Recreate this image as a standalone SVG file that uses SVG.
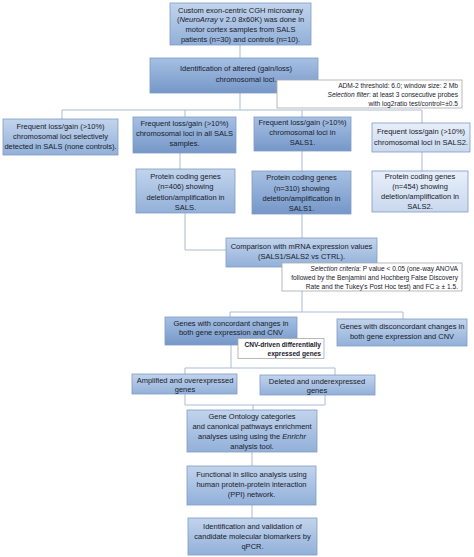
<svg xmlns="http://www.w3.org/2000/svg" width="474" height="557" viewBox="0 0 474 557">
<defs>
<linearGradient id="gMid" x1="0" y1="0" x2="0" y2="1"><stop offset="0" stop-color="#c2d4ec"/><stop offset="1" stop-color="#92b0d9"/></linearGradient>
<linearGradient id="gDark" x1="0" y1="0" x2="0" y2="1"><stop offset="0" stop-color="#a6c0e3"/><stop offset="1" stop-color="#7597c8"/></linearGradient>
<linearGradient id="gLight" x1="0" y1="0" x2="0" y2="1"><stop offset="0" stop-color="#e8eff9"/><stop offset="1" stop-color="#c9d8ee"/></linearGradient>
<style>
.box{stroke:#7f9cc6;stroke-width:0.8}
.mid{fill:url(#gMid)}.dark{fill:url(#gDark)}.light{fill:url(#gLight)}
.note{fill:#ffffff;stroke:#a8a8a8;stroke-width:0.8}
text{font-family:"Liberation Sans",Arial,sans-serif;font-size:7.5px;fill:#18202c}
.c{text-anchor:middle}
.r{text-anchor:end;font-size:6.6px}
.b{font-weight:bold}
.conn line,.conn path{stroke:#a9bcd4;stroke-width:1;fill:none}
</style>
</defs>
<g id="connectors" class="conn">
<line x1="240" y1="45" x2="240" y2="58"/>
<line x1="240" y1="93" x2="240" y2="110"/>
<path d="M62 119 V110 H422 V123"/>
<line x1="185" y1="110" x2="185" y2="117"/>
<line x1="302" y1="110" x2="302" y2="117"/>
<line x1="180" y1="153" x2="180" y2="169"/>
<line x1="302" y1="151" x2="302" y2="171"/>
<line x1="422" y1="152" x2="422" y2="171"/>
<path d="M185 213 V250 H226"/>
<line x1="302" y1="214" x2="302" y2="238"/>
<line x1="302" y1="267" x2="302" y2="312"/>
<path d="M230 317 V312 H403 V319"/>
<line x1="231" y1="345" x2="231" y2="368"/>
<path d="M185 374 V368 H335 V375"/>
<path d="M185 394 V405 H325 V395"/>
<line x1="253" y1="405" x2="253" y2="410"/>
<line x1="252" y1="452" x2="252" y2="466"/>
<line x1="252" y1="505" x2="252" y2="518"/>
</g>
<g id="n1"><rect class="box mid" x="170" y="3" width="141" height="42"/>
<text class="c" x="240.5" y="12.5">Custom exon-centric CGH microarray</text>
<text class="c" x="240.5" y="22.2">(<tspan font-style="italic">NeuroArray</tspan>  v 2.0 8x60K) was done in</text>
<text class="c" x="240.5" y="31.9">motor cortex samples from SALS</text>
<text class="c" x="240.5" y="41.6">patients (n=30) and controls (n=10).</text></g>
<g id="n2"><rect class="box dark" x="150" y="58" width="168" height="35"/>
<text class="c" x="236" y="71">Identification of altered (gain/loss)</text>
<text class="c" x="246" y="82">chromosomal loci.</text></g>
<g id="note1"><rect class="note" x="277" y="80" width="185" height="28"/>
<text class="r" x="458" y="88">ADM-2 threshold: 6.0; window size: 2 Mb</text>
<text class="r" x="458" y="97"><tspan font-style="italic">Selection filter</tspan>: at least 3 consecutive probes</text>
<text class="r" x="458" y="106">with log2ratio test/control=±0.5</text></g>
<g id="nA"><rect class="box mid" x="3" y="119" width="115" height="36"/>
<text class="c" x="60.5" y="129">Frequent  loss/gain (&gt;10%)</text>
<text class="c" x="60.5" y="139">chromosomal loci selectively</text>
<text class="c" x="60.5" y="149">detected  in SALS (none controls).</text></g>
<g id="nB"><rect class="box dark" x="133" y="117" width="103" height="36"/>
<text class="c" x="184.5" y="126">Frequent  loss/gain (&gt;10%)</text>
<text class="c" x="184.5" y="136">chromosomal loci in all SALS</text>
<text class="c" x="184.5" y="146">samples.</text></g>
<g id="nC"><rect class="box dark" x="254" y="117" width="97" height="34"/>
<text class="c" x="302.5" y="125">Frequent  loss/gain (&gt;10%)</text>
<text class="c" x="302.5" y="135">chromosomal loci in</text>
<text class="c" x="302.5" y="145">SALS1.</text></g>
<g id="nD"><rect class="box light" x="372" y="123" width="98" height="29"/>
<text class="c" x="421" y="134">Frequent  loss/gain (&gt;10%)</text>
<text class="c" x="421" y="145">chromosomal loci in SALS2.</text></g>
<g id="nB2"><rect class="box mid" x="136" y="169" width="99" height="44"/>
<text class="c" x="185.5" y="178.5">Protein coding genes</text>
<text class="c" x="185.5" y="189">(n=406) showing</text>
<text class="c" x="185.5" y="199.5">deletion/amplification in</text>
<text class="c" x="185.5" y="210">SALS.</text></g>
<g id="nC2"><rect class="box dark" x="252" y="171" width="99" height="43"/>
<text class="c" x="301.5" y="180">Protein coding genes</text>
<text class="c" x="301.5" y="190.5">(n=310) showing</text>
<text class="c" x="301.5" y="201">deletion/amplification in</text>
<text class="c" x="301.5" y="211">SALS1.</text></g>
<g id="nD2"><rect class="box light" x="372" y="171" width="96" height="41"/>
<text class="c" x="420" y="179">Protein coding genes</text>
<text class="c" x="420" y="189">(n=454) showing</text>
<text class="c" x="420" y="199">deletion/amplification in</text>
<text class="c" x="420" y="209">SALS2.</text></g>
<g id="nCmp"><rect class="box mid" x="226" y="238" width="151" height="29"/>
<text class="c" x="301.5" y="249">Comparison with mRNA  expression values</text>
<text class="c" x="301.5" y="259">(SALS1/SALS2  vs CTRL).</text></g>
<g id="note2"><rect class="note" x="282" y="263" width="180" height="28"/>
<text class="r" x="458" y="271"><tspan font-style="italic">Selection criteria</tspan>: P value &lt; 0.05 (one-way ANOVA</text>
<text class="r" x="458" y="280">followed by the Benjamini and Hochberg False Discovery</text>
<text class="r" x="458" y="289">Rate and the Tukey's Post Hoc test) and FC ≥ ± 1.5.</text></g>
<g id="nConc"><rect class="box dark" x="165" y="317" width="132" height="28"/>
<text class="c" x="231" y="325.5">Genes  with concordant changes in</text>
<text class="c" x="231" y="335">both gene expression and CNV</text></g>
<g id="nDisc"><rect class="box mid" x="337" y="319" width="130" height="27"/>
<text class="c" x="402" y="329">Genes  with disconcordant changes in</text>
<text class="c" x="402" y="339">both gene expression and CNV</text></g>
<g id="noteCNV"><rect class="note" x="238" y="338.5" width="86" height="20"/>
<text class="r b" x="321" y="347">CNV-driven differentially</text>
<text class="r b" x="321" y="355.5">expressed genes</text></g>
<g id="nAmp"><rect class="box mid" x="132" y="374" width="105" height="20"/>
<text class="c" x="185" y="382.5">Amplified and overexpressed</text>
<text class="c" x="185" y="391.5">genes</text></g>
<g id="nDel"><rect class="box mid" x="260" y="375" width="115" height="20"/>
<text class="c" x="317" y="383.5">Deleted  and underexpressed</text>
<text class="c" x="317" y="392.5">genes</text></g>
<g id="nGO"><rect class="box mid" x="187" y="410" width="130" height="42"/>
<text class="c" x="252" y="419">Gene  Ontology categories</text>
<text class="c" x="252" y="429">and canonical pathways enrichment</text>
<text class="c" x="252" y="439">analyses using using the <tspan font-style="italic">Enrichr</tspan></text>
<text class="c" x="252" y="449">analysis tool.</text></g>
<g id="nFun"><rect class="box mid" x="187" y="466" width="129" height="39"/>
<text class="c" x="251.5" y="477">Functional in silico analysis using</text>
<text class="c" x="251.5" y="487">human protein-protein interaction</text>
<text class="c" x="251.5" y="497">(PPI) network.</text></g>
<g id="nId"><rect class="box mid" x="188" y="518" width="129" height="37"/>
<text class="c" x="252.5" y="529">Identification and validation of</text>
<text class="c" x="252.5" y="539">candidate molecular biomarkers by</text>
<text class="c" x="252.5" y="549">qPCR.</text></g>
</svg>
